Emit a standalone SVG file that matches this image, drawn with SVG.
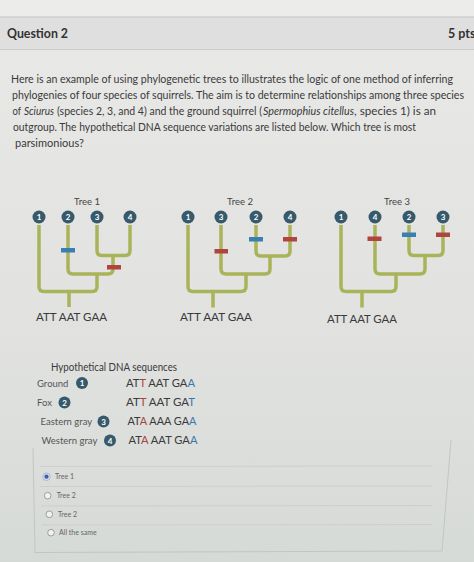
<svg xmlns="http://www.w3.org/2000/svg" width="474" height="562" viewBox="0 0 474 562">
<defs>
<linearGradient id="bg" x1="0" y1="0" x2="0" y2="1">
<stop offset="0" stop-color="#e9e9e8"/>
<stop offset="0.6" stop-color="#e1e2e0"/>
<stop offset="1" stop-color="#d6dad7"/>
</linearGradient>
<style>
.t{font-family:Lato,"Liberation Sans",sans-serif;fill:#3a3a3a}
.body{font-size:11px}
.it{font-style:italic}
.hd{font-size:12.5px;font-weight:bold;fill:#333}
.br{fill:none;stroke:#a9b45a;stroke-width:3.5;stroke-linejoin:round}
.nd{fill:#36596b}
.num{font-family:Lato,"Liberation Sans",sans-serif;font-size:8px;font-weight:bold;fill:#fff;text-anchor:middle}
.blue{fill:#3a7fb2}
.red{fill:#b0443f}
.ttl{font-size:9.5px;text-anchor:middle;fill:#444}
.seq{font-size:11px;fill:#3a3a3a}
.lab{font-size:9.5px;fill:#555}
.opt{font-size:7px;fill:#666}
.sep{stroke:#c9ccc9;stroke-width:0.8}
.rad{fill:#f2f2f2;stroke:#8a8a8a;stroke-width:0.8}
.r{fill:#a8433f}
.b{fill:#3a78a8}
</style>
</defs>
<rect width="474" height="562" fill="url(#bg)"/>
<rect x="0" y="0" width="474" height="17" fill="#ececeb"/>
<rect x="0" y="17" width="474" height="32" fill="#dedfde"/>
<line x1="0" y1="17" x2="474" y2="17" stroke="#c4c4c4" stroke-width="1"/>
<line x1="0" y1="49.5" x2="474" y2="49.5" stroke="#cbcbcb" stroke-width="1"/>
<text class="t hd" x="7" y="38" textLength="61" lengthAdjust="spacingAndGlyphs">Question 2</text>
<text class="t hd" x="448" y="38">5 pts</text>

<text class="t body" x="11" y="83" textLength="442" lengthAdjust="spacingAndGlyphs">Here is an example of using phylogenetic trees to illustrates the logic of one method of inferring</text>
<text class="t" font-size="10.6" x="12" y="99" textLength="452" lengthAdjust="spacingAndGlyphs">phylogenies of four species of squirrels. The aim is to determine relationships among three species</text>
<text class="t body" x="12.5" y="115" textLength="8.5" lengthAdjust="spacingAndGlyphs">of</text>
<text class="t body it" x="24" y="115" textLength="30" lengthAdjust="spacingAndGlyphs">Sciurus</text>
<text class="t body" x="57" y="115" textLength="205" lengthAdjust="spacingAndGlyphs">(species 2, 3, and 4) and the ground squirrel (</text>
<text class="t body it" x="263" y="115" textLength="91" lengthAdjust="spacingAndGlyphs">Spermophius citellus</text>
<text class="t body" x="354" y="115" textLength="82" lengthAdjust="spacingAndGlyphs">, species 1) is an</text>
<text class="t body" x="13" y="131" textLength="403" lengthAdjust="spacingAndGlyphs">outgroup. The hypothetical DNA sequence variations are listed below. Which tree is most</text>
<text class="t body" x="15" y="147" textLength="69" lengthAdjust="spacingAndGlyphs">parsimonious?</text>

<g id="tree1">
<text class="t ttl" x="87" y="205">Tree 1</text>
<g class="connectors">
<path class="br" d="M39,225 V286.5 Q39,291.5 44,291.5 H92 Q97,291.5 97,286.5 V274"/>
<path class="br" d="M68,225 V269 Q68,274 73,274 H108 Q113,274 113,269 V255.5"/>
<path class="br" d="M97,225 V250.5 Q97,255.5 102,255.5 H125 Q130,255.5 130,250.5 V225"/>
<path class="br" d="M69,291.5 V307"/>
</g>
<rect class="blue" x="61" y="248" width="14" height="4.5"/>
<rect class="red" x="107" y="265" width="14" height="4.5"/>
<g id="t1n1"><circle class="nd" cx="39" cy="217" r="6.5"/><text class="num" x="39" y="220">1</text></g>
<g id="t1n2"><circle class="nd" cx="68" cy="217" r="6.5"/><text class="num" x="68" y="220">2</text></g>
<g id="t1n3"><circle class="nd" cx="97" cy="217" r="6.5"/><text class="num" x="97" y="220">3</text></g>
<g id="t1n4"><circle class="nd" cx="130" cy="217" r="6.5"/><text class="num" x="130" y="220">4</text></g>
<text class="t seq" x="36" y="321" textLength="71" lengthAdjust="spacingAndGlyphs">ATT AAT GAA</text>
</g>

<g id="tree2">
<text class="t ttl" x="240" y="205">Tree 2</text>
<g class="connectors">
<path class="br" d="M188,225 V286.5 Q188,291.5 193,291.5 H241 Q246,291.5 246,286.5 V274"/>
<path class="br" d="M221,225 V269 Q221,274 226,274 H265 Q270,274 270,269 V256"/>
<path class="br" d="M256,225 V251 Q256,256 261,256 H285 Q290,256 290,251 V225"/>
<path class="br" d="M213,291.5 V307.5"/>
</g>
<rect class="red" x="214.5" y="249" width="13.5" height="4.5"/>
<rect class="blue" x="249" y="237" width="14" height="4.5"/>
<rect class="red" x="283" y="237" width="14" height="4.5"/>
<g id="t2n1"><circle class="nd" cx="188" cy="217" r="6.5"/><text class="num" x="188" y="220">1</text></g>
<g id="t2n3"><circle class="nd" cx="221" cy="217" r="6.5"/><text class="num" x="221" y="220">3</text></g>
<g id="t2n2"><circle class="nd" cx="256" cy="217" r="6.5"/><text class="num" x="256" y="220">2</text></g>
<g id="t2n4"><circle class="nd" cx="290" cy="217" r="6.5"/><text class="num" x="290" y="220">4</text></g>
<text class="t seq" x="180" y="321" textLength="72" lengthAdjust="spacingAndGlyphs">ATT AAT GAA</text>
</g>

<g id="tree3">
<text class="t ttl" x="397" y="205">Tree 3</text>
<g class="connectors">
<path class="br" d="M341,225 V286.5 Q341,291.5 346,291.5 H391 Q396,291.5 396,286.5 V274"/>
<path class="br" d="M375,225 V269 Q375,274 380,274 H420 Q425,274 425,269 V255.5"/>
<path class="br" d="M409,225 V250.5 Q409,255.5 414,255.5 H438 Q443,255.5 443,250.5 V225"/>
<path class="br" d="M362,291.5 V307.5"/>
</g>
<rect class="red" x="367.5" y="236.5" width="14" height="4.5"/>
<rect class="blue" x="402" y="232.5" width="14" height="4.5"/>
<rect class="red" x="436" y="232.5" width="14" height="4.5"/>
<g id="t3n1"><circle class="nd" cx="341" cy="217" r="6.5"/><text class="num" x="341" y="220">1</text></g>
<g id="t3n4"><circle class="nd" cx="375" cy="217" r="6.5"/><text class="num" x="375" y="220">4</text></g>
<g id="t3n2"><circle class="nd" cx="409" cy="217" r="6.5"/><text class="num" x="409" y="220">2</text></g>
<g id="t3n3"><circle class="nd" cx="443" cy="217" r="6.5"/><text class="num" x="443" y="220">3</text></g>
<text class="t seq" x="327" y="323" textLength="70" lengthAdjust="spacingAndGlyphs">ATT AAT GAA</text>
</g>

<g id="dna-table">
<text class="t" x="51" y="371" font-size="10.5" fill="#3a3a3a" textLength="126" lengthAdjust="spacingAndGlyphs">Hypothetical DNA sequences</text>
<g id="row1">
<text class="t lab" x="37" y="386.5">Ground</text>
<circle class="nd" cx="82" cy="383" r="6"/><text class="num" x="82" y="386">1</text>
<text class="t seq" x="126" y="386.5" textLength="69" lengthAdjust="spacingAndGlyphs">AT<tspan class="r">T</tspan> AAT GA<tspan class="b">A</tspan></text>
</g>
<g id="row2">
<text class="t lab" x="37" y="406">Fox</text>
<circle class="nd" cx="64.5" cy="402.5" r="6"/><text class="num" x="64.5" y="405.5">2</text>
<text class="t seq" x="126" y="406" textLength="69" lengthAdjust="spacingAndGlyphs">AT<tspan class="r">T</tspan> AAT GA<tspan class="b">T</tspan></text>
</g>
<g id="row3">
<text class="t lab" x="40.5" y="425">Eastern gray</text>
<circle class="nd" cx="103.5" cy="421.5" r="6"/><text class="num" x="103.5" y="424.5">3</text>
<text class="t seq" x="127.5" y="425" textLength="69" lengthAdjust="spacingAndGlyphs">AT<tspan class="r">A</tspan> AAA GA<tspan class="b">A</tspan></text>
</g>
<g id="row4">
<text class="t lab" x="41.5" y="444">Western gray</text>
<circle class="nd" cx="110" cy="440.5" r="6"/><text class="num" x="110" y="443.5">4</text>
<text class="t seq" x="128.5" y="444" textLength="69" lengthAdjust="spacingAndGlyphs">AT<tspan class="r">A</tspan> AAT GA<tspan class="b">A</tspan></text>
</g>
</g>

<g id="answers">
<path d="M33,448 L35,552.5 L442,551 L451,440" fill="none" stroke="#c2c6c3" stroke-width="1"/>
<line class="sep" x1="40" y1="466.5" x2="432" y2="466"/>
<line class="sep" x1="40" y1="486.5" x2="432" y2="486"/>
<line class="sep" x1="41" y1="506" x2="432" y2="505.5"/>
<line class="sep" x1="42" y1="525" x2="432" y2="524.5"/>
<g id="opt1">
<circle cx="46.5" cy="476.7" r="3.8" fill="#d5dcef" stroke="#9aa3b8" stroke-width="0.6"/>
<circle cx="46.5" cy="476.7" r="2.1" fill="#3a5fb0"/>
<text class="t opt" x="55" y="479.3">Tree 1</text>
</g>
<g id="opt2">
<circle class="rad" cx="47.7" cy="495.7" r="3.3"/>
<text class="t opt" x="56.7" y="498.3">Tree 2</text>
</g>
<g id="opt3">
<circle class="rad" cx="49.3" cy="514.3" r="3.3"/>
<text class="t opt" x="58" y="516.9">Tree 2</text>
</g>
<g id="opt4">
<circle class="rad" cx="51" cy="532.7" r="3.3"/>
<text class="t opt" x="59" y="535.3">All the same</text>
</g>
</g>
</svg>
